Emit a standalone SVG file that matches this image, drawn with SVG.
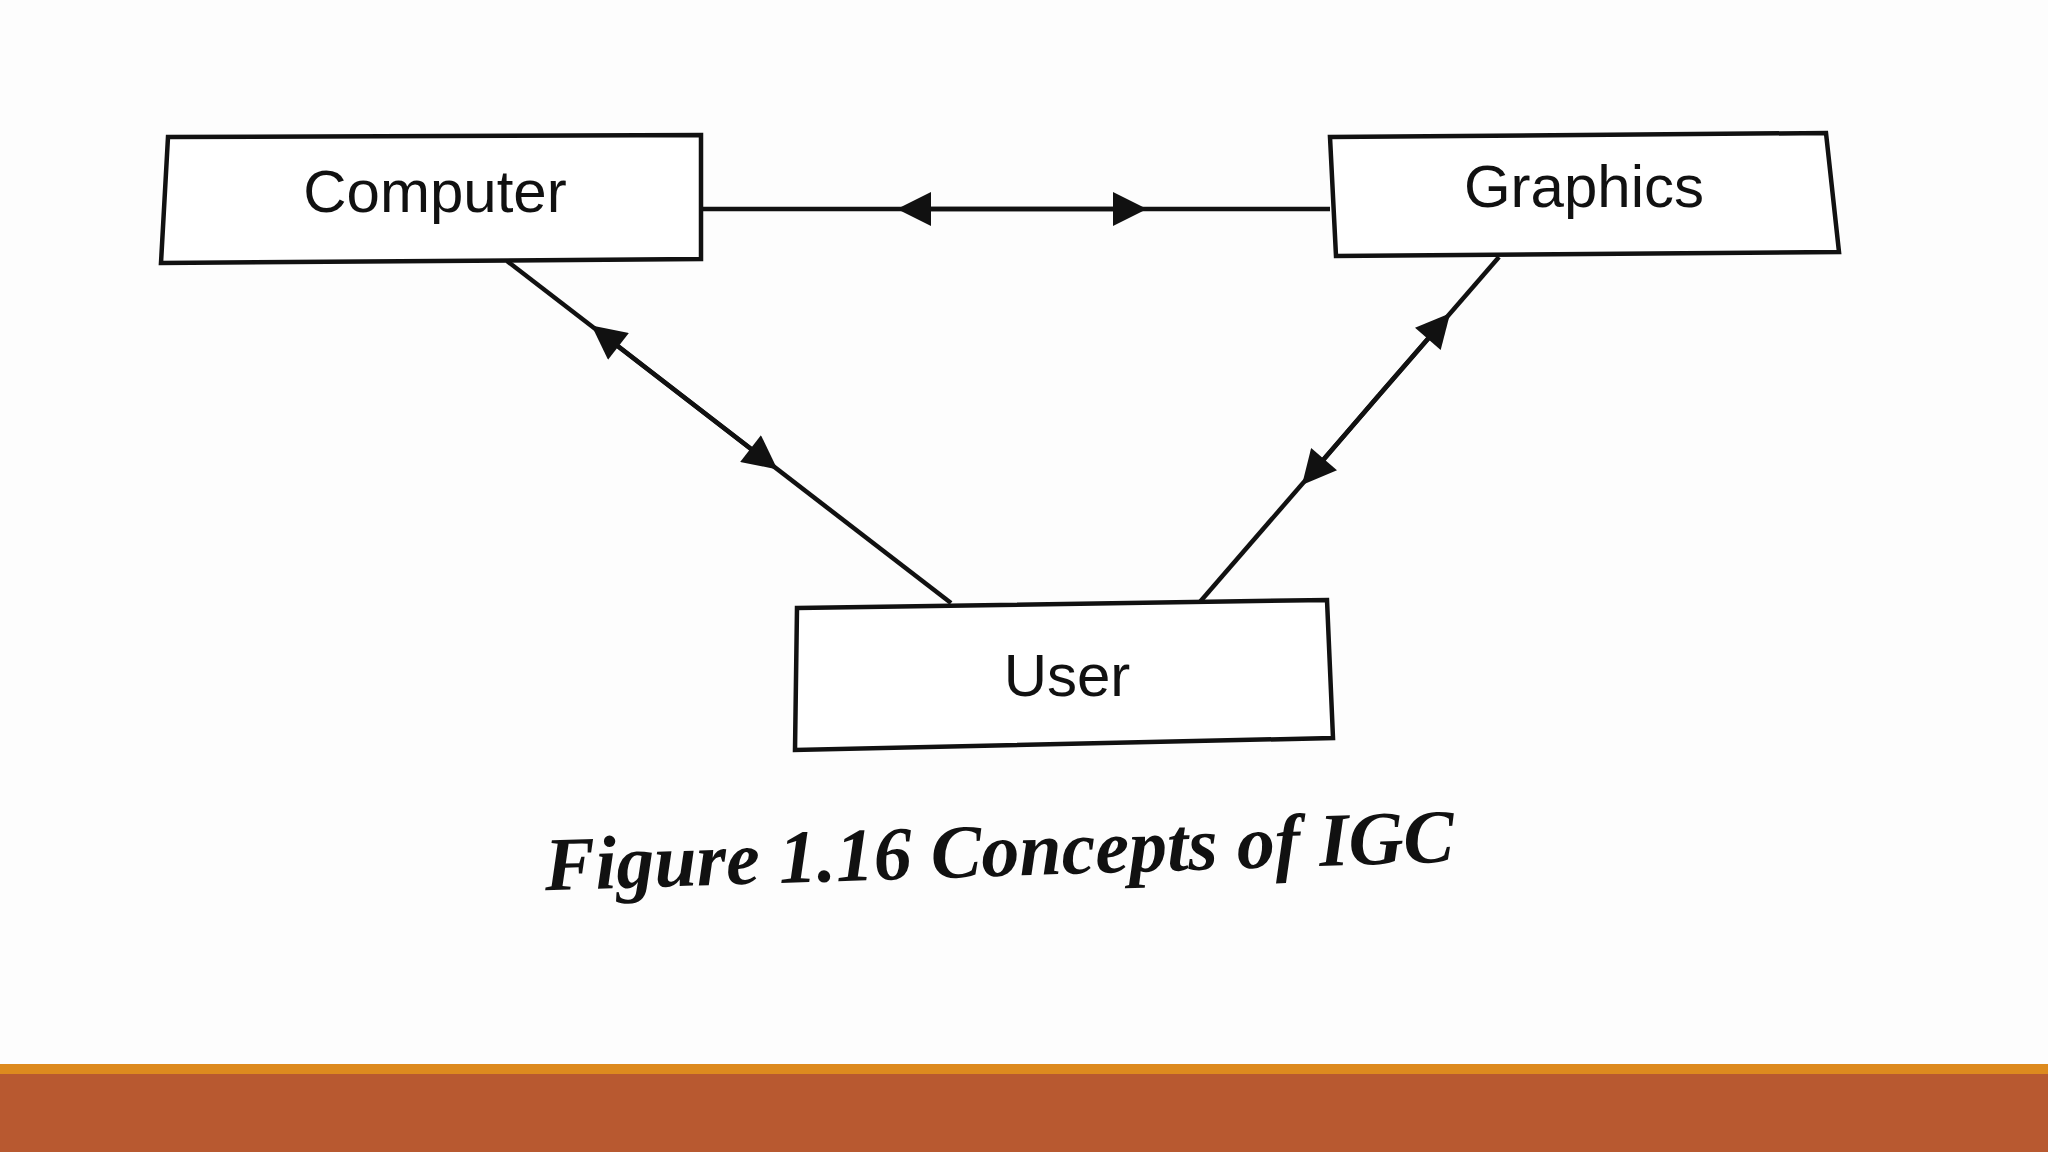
<svg xmlns="http://www.w3.org/2000/svg" width="2048" height="1152" viewBox="0 0 2048 1152">
<defs>
<marker id="a" viewBox="0 0 10 10" refX="5" refY="5" markerWidth="40" markerHeight="34" markerUnits="userSpaceOnUse" orient="auto"><path d="M0,0 L10,5 L0,10 z" fill="#111"/></marker>
<style>
.box{fill:#fff;stroke:#111;stroke-width:4.5}
.lbl{font-family:"Liberation Sans",Arial,sans-serif;font-size:60px;fill:#111;text-anchor:middle}
.c{stroke:#111;stroke-width:4.5;fill:none}
</style>
</defs>
<rect width="2048" height="1152" fill="#fdfdfd"/>
<g id="connectors">
<path class="c" d="M701,209 L1330,209"/>
<path class="c" d="M1000,209 L914,209" marker-end="url(#a)"/>
<path class="c" d="M1000,209 L1130,209" marker-end="url(#a)"/>
<path class="c" d="M507,261 L951,603"/>
<path class="c" d="M676,391 L605,336" marker-end="url(#a)"/>
<path class="c" d="M676,391 L764,459" marker-end="url(#a)"/>
<path class="c" d="M1499,257 L1199,603"/>
<path class="c" d="M1379,395 L1439,326" marker-end="url(#a)"/>
<path class="c" d="M1379,395 L1313,472" marker-end="url(#a)"/>
</g>
<g id="computer"><polygon class="box" points="168,137 701,135 701,259 161,263"/><text class="lbl" x="435" y="212">Computer</text></g>
<g id="graphics"><polygon class="box" points="1330,137 1826,133 1839,252 1336,256"/><text class="lbl" x="1584" y="207">Graphics</text></g>
<g id="user"><polygon class="box" points="797,608 1327,600 1333,738 795,750"/><text class="lbl" x="1067" y="696">User</text></g>
<text x="1000" y="876" transform="rotate(-1.8 1000 876)" font-family="Liberation Serif,serif" font-weight="bold" font-style="italic" font-size="76" fill="#111" text-anchor="middle">Figure 1.16 Concepts of IGC</text>
<rect x="0" y="1064" width="2048" height="10" fill="#DD8A1E"/>
<rect x="0" y="1074" width="2048" height="78" fill="#B85930"/>
</svg>
